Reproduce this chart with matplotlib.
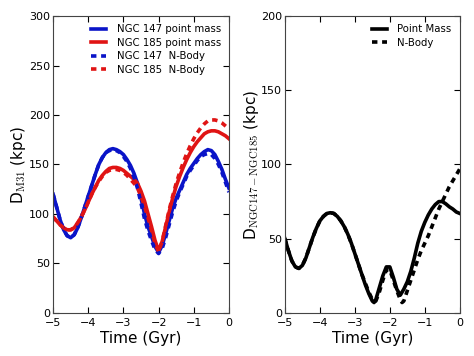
import matplotlib
matplotlib.use("Agg")
import matplotlib.pyplot as plt

plt.rcParams["font.family"] = "DejaVu Sans"
plt.rcParams["mathtext.fontset"] = "cm"

BLUE = "#0a14c8"
RED = "#e01414"

# --- left panel: distance to M31 (kpc) vs time (Gyr) ---
t_left = [-5.0, -4.9, -4.8, -4.7, -4.6, -4.5, -4.4, -4.3, -4.2, -4.1, -4.0,
          -3.9, -3.8, -3.7, -3.6, -3.5, -3.4, -3.3, -3.2, -3.1, -3.0,
          -2.9, -2.8, -2.7, -2.6, -2.5, -2.4, -2.3, -2.2, -2.1, -2.0,
          -1.9, -1.8, -1.7, -1.6, -1.5, -1.4, -1.3, -1.2, -1.1, -1.0,
          -0.9, -0.8, -0.7, -0.6, -0.5, -0.4, -0.3, -0.2, -0.1, 0.0]
n147_pm = [120, 107, 94, 84, 78, 76, 79, 86, 96, 107, 118,
           129, 140, 150, 157, 162, 165, 166, 165, 163, 160,
           155, 149, 141, 131, 116, 100, 87, 77, 67, 61,
           68, 80, 93, 106, 116, 124, 132, 140, 146, 151,
           156, 160, 163, 165, 164, 160, 153, 145, 135, 126]
n185_pm = [97, 93, 89, 86, 84, 84, 86, 91, 97, 104, 112,
           120, 127, 134, 139, 143, 146, 147, 147, 146, 144,
           141, 138, 135, 131, 123, 113, 100, 87, 73, 63,
           72, 87, 102, 116, 128, 138, 147, 155, 162, 168,
           173, 177, 181, 183, 184, 184, 183, 181, 179, 176]
n147_nb = [120, 107, 94, 84, 78, 76, 79, 86, 96, 107, 118,
           129, 140, 150, 157, 162, 164, 165, 164, 162, 158,
           153, 146, 137, 126, 111, 95, 83, 73, 64, 60,
           65, 76, 89, 102, 113, 122, 130, 138, 144, 149,
           154, 158, 160, 161, 160, 156, 150, 142, 132, 122]
n185_nb = [97, 93, 89, 86, 84, 84, 86, 91, 97, 104, 112,
           120, 127, 133, 138, 142, 144, 145, 145, 144, 142,
           139, 135, 131, 126, 118, 108, 96, 83, 70, 62,
           72, 88, 104, 118, 131, 142, 152, 161, 169, 176,
           182, 187, 191, 194, 195, 195, 194, 192, 189, 186]

# --- right panel: NGC147-NGC185 separation (kpc) ---
t_pm = [-5.0, -4.9, -4.8, -4.7, -4.6, -4.5, -4.4, -4.3, -4.2, -4.1, -4.0,
        -3.9, -3.8, -3.7, -3.6, -3.5, -3.4, -3.3, -3.2, -3.1, -3.0,
        -2.9, -2.8, -2.7, -2.6, -2.5, -2.45, -2.4, -2.3, -2.2, -2.1, -2.0,
        -1.9, -1.8, -1.7, -1.6, -1.5, -1.4, -1.3, -1.2, -1.1, -1.0,
        -0.9, -0.8, -0.7, -0.6, -0.5, -0.4, -0.3, -0.2, -0.1, 0.0]
sep_pm = [50, 42, 35, 31, 30, 32, 37, 44, 51, 57, 62,
          65, 67, 67.5, 67, 65, 62, 58, 53, 47, 40,
          33, 26, 19, 13, 8, 7, 9, 17, 25, 31, 31,
          24, 16, 12, 16, 21, 28, 37, 47, 55, 61,
          66, 70, 73, 75, 75, 73.5, 71.5, 70, 68, 67]
t_nb = [-5.0, -4.9, -4.8, -4.7, -4.6, -4.5, -4.4, -4.3, -4.2, -4.1, -4.0,
        -3.9, -3.8, -3.7, -3.6, -3.5, -3.4, -3.3, -3.2, -3.1, -3.0,
        -2.9, -2.8, -2.7, -2.6, -2.5, -2.4, -2.3, -2.2, -2.1, -2.0,
        -1.9, -1.8, -1.7, -1.65, -1.6, -1.5, -1.4, -1.3, -1.2, -1.1, -1.0,
        -0.9, -0.8, -0.7, -0.6, -0.5, -0.4, -0.3, -0.2, -0.1, 0.0]
sep_nb = [50, 42, 35, 31, 30, 32, 37, 44, 51, 57, 62,
          65, 67, 67.5, 67, 65, 62, 58, 53, 47, 40,
          33, 26, 20, 14, 9, 8, 14, 22, 29, 29,
          22, 15, 9, 7, 8, 15, 22, 29, 36, 42, 47,
          52, 58, 64, 70, 75, 80, 85, 89, 93, 97]

x_ticks = [-5, -4, -3, -2, -1, 0]

fig = plt.figure(figsize=(4.74, 3.56), dpi=100)
ax1 = fig.add_axes([0.112, 0.121, 0.371, 0.834])
ax2 = fig.add_axes([0.601, 0.121, 0.369, 0.834])

lw = 2.6
dash = (0, (1.5, 1.3))
ax1.plot(t_left, n147_pm, color=BLUE, lw=lw, label="NGC 147 point mass")
ax1.plot(t_left, n185_pm, color=RED, lw=lw, label="NGC 185 point mass")
ax1.plot(t_left, n147_nb, color=BLUE, lw=lw, ls=dash,
         label="NGC 147  N-Body")
ax1.plot(t_left, n185_nb, color=RED, lw=lw, ls=dash,
         label="NGC 185  N-Body")
ax1.set_xlim(-5, 0)
ax1.set_ylim(0, 300)
ax1.set_yticks(range(0, 301, 50))
ax1.set_ylabel(r"D$_{\mathrm{M31}}$ (kpc)", fontsize=11, labelpad=1)
ax1.legend(loc="upper right", frameon=False, fontsize=7.3,
           handlelength=1.5, handletextpad=1.0, borderaxespad=0.4,
           labelspacing=0.35)

ax2.plot(t_pm, sep_pm, color="black", lw=lw, label="Point Mass")
ax2.plot(t_nb, sep_nb, color="black", lw=lw, ls=dash, label="N-Body")
ax2.set_xlim(-5, 0)
ax2.set_ylim(0, 200)
ax2.set_yticks(range(0, 201, 50))
ax2.set_ylabel(r"D$_{\mathrm{NGC147-NGC185}}$ (kpc)", fontsize=11,
               labelpad=0)
ax2.legend(loc="upper right", frameon=False, fontsize=7.3,
           handlelength=1.5, handletextpad=1.0, borderaxespad=0.4,
           labelspacing=0.35)

for ax in (ax1, ax2):
    ax.set_xticks(x_ticks)
    ax.set_xlabel("Time (Gyr)", fontsize=11, labelpad=2)
    ax.tick_params(direction="in", top=True, right=True, labelsize=8,
                   length=4)
    ax.tick_params(axis="x", pad=4)
    ax.tick_params(axis="y", pad=2)
    for s in ax.spines.values():
        s.set_color("#444444")

fig.savefig("out.png", dpi=100, facecolor="white")
